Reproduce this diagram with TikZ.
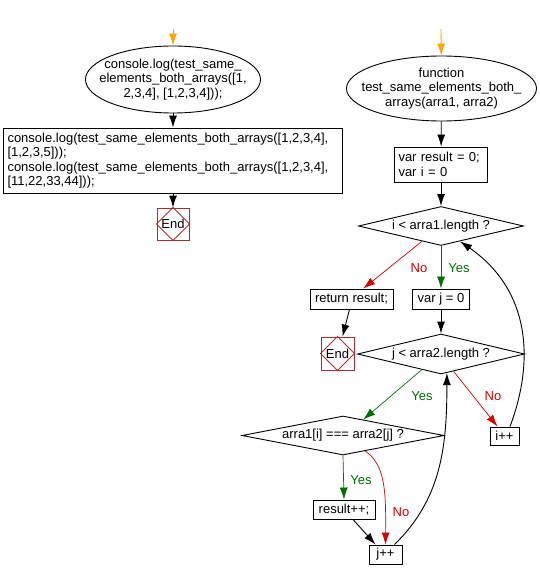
\documentclass[tikz,border=0pt]{standalone}
\usepackage{fontspec}
\setmainfont{Liberation Sans}
\usetikzlibrary{shapes.geometric,arrows.meta,calc}
\definecolor{yesg}{RGB}{0,110,0}
\definecolor{nor}{RGB}{210,0,0}
\definecolor{endc}{RGB}{170,45,45}
\definecolor{orng}{RGB}{255,165,0}
\begin{document}
\begin{tikzpicture}[x=1pt,y=-1pt,
  every node/.style={font=\fontsize{13}{14.5}\selectfont, inner sep=0pt},
  ell/.style={ellipse, draw, line width=0.9pt},
  box/.style={rectangle, draw, line width=0.9pt, inner xsep=4pt},
  dec/.style={diamond, draw, line width=0.9pt, aspect=5},
  endbox/.style={rectangle, draw=endc, line width=0.9pt, minimum width=32, minimum height=32},
  arr/.style={-{Latex[length=12pt,width=8pt]}, line width=0.9pt},
  yeslbl/.style={text=yesg},
  nolbl/.style={text=nor}]
\useasboundingbox (0,0) rectangle (539,580);

% left column
\coordinate (s1) at (173,29);
\node[ell, minimum width=175, minimum height=67] (e1) at (173,79.5) {};
\node[align=center] (e1t) at (e1) {console.log(test\_same\_\\elements\_both\_arrays([1,\\2,3,4], [1,2,3,4]));};
\node[box, text width=331, align=left, minimum height=65] (b1) at (173,160.5)
  {console.log(test\_same\_elements\_both\_arrays([1,2,3,4],\\{}[1,2,3,5]));\\console.log(test\_same\_elements\_both\_arrays([1,2,3,4],\\{}[11,22,33,44]));};
\node[endbox] (en1) at (173,224) {End};
\draw[endc, line width=0.9pt] (en1.north) -- (en1.east) -- (en1.south) -- (en1.west) -- cycle;

\draw[arr, orng] (s1) -- (e1);
\draw[arr] (e1) -- (b1);
\draw[arr] (b1) -- (en1);

% right column
\coordinate (s2) at (441,29);
\node[ell, minimum width=190, minimum height=65] (e2) at (441.5,88.5) {};
\node[align=center] (e2t) at (e2) {function\\test\_same\_elements\_both\_\\arrays(arra1, arra2)};
\node[box, text width=85, align=left, minimum height=35] (b2) at (441,164.5) {var result = 0;\\var i = 0};
\node[dec, minimum width=165, minimum height=39] (d1) at (441,226) {i < arra1.length ?};
\node[box, minimum width=83, minimum height=20] (ret) at (351.5,299) {return result;};
\node[box, minimum width=57, minimum height=20] (vj) at (441,299) {var j = 0};
\node[endbox, minimum width=33, minimum height=33] (en2) at (337.5,353.5) {End};
\draw[endc, line width=0.9pt] (en2.north) -- (en2.east) -- (en2.south) -- (en2.west) -- cycle;
\node[dec, minimum width=167, minimum height=40] (d2) at (441,354) {j < arra2.length ?};
\node[box, minimum width=29, minimum height=18] (ipp) at (504.5,436) {i++};
\node[dec, minimum width=202, minimum height=39] (d3) at (343,435.5) {arra1[i] === arra2[j] ?};
\node[box, minimum width=62, minimum height=19] (rpp) at (344,509.5) {result++;};
\node[box, minimum width=33, minimum height=19] (jpp) at (385.5,554.5) {j++};

\draw[arr, orng] (s2) -- (e2);
\draw[arr] (e2) -- (b2);
\draw[arr] (b2) -- (d1);
\draw[arr, nor, line width=0.7pt] ($(d1.west)!0.77!(d1.south)$) -- ($(ret.north west)!0.64!(ret.north east)$);
\draw[arr, yesg, line width=0.7pt] (d1.south) -- (vj.north);
\node[nolbl] (l1) at (419,268) {No};
\node[yeslbl] (l2) at (459,268) {Yes};
\draw[arr] ($(ret.south)+(-2,0)$) -- ($(en2.north)+(5,0)$);
\draw[arr] (vj.south) -- (d2.north);
\draw[arr, yesg, line width=0.7pt] ($(d2.west)!0.77!(d2.south)$) -- ($(d3.north)!0.2!(d3.east)$);
\draw[arr, nor, line width=0.7pt] ($(d2.south)!0.15!(d2.east)$) -- ($(ipp.north)+(-7,0)$);
\node[yeslbl] (l3) at (422,396) {Yes};
\node[nolbl] (l4) at (493,396) {No};
\draw[arr] ($(ipp.north)+(5.5,0)$) .. controls (535,360) and (530,290) .. ($(d1.east)!0.77!(d1.south)$);
\draw[arr, yesg, line width=0.7pt] (d3.south) -- (rpp.north);
\draw[arr, nor, line width=0.7pt] ($(d3.south)!0.22!(d3.east)$) .. controls (385,465) and (386,490) .. (jpp.north);
\node[yeslbl] (l5) at (361,480) {Yes};
\node[nolbl] (l6) at (401,512) {No};
\draw[arr] ($(rpp.south)+(9,0)$) -- ($(jpp.north)+(-10,0)$);
\draw[arr] ($(jpp.north)+(9,0)$) .. controls (440,500) and (447,450) .. ($(d2.south)!0.07!(d2.east)$);
\end{tikzpicture}
\end{document}
